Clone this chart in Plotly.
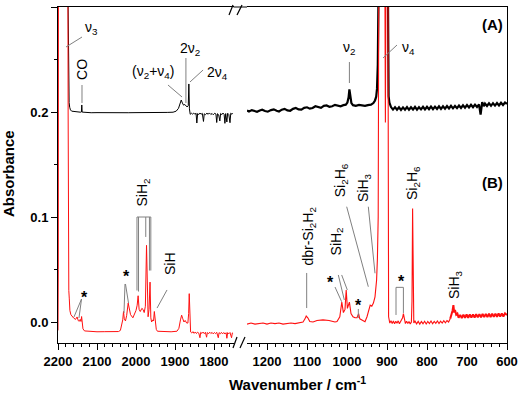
import plotly.graph_objects as go

# ---------------- data (wavenumber / cm-1, absorbance as plotted) ----------------
BLACK_L_WN = [2200, 2175, 2174, 2173.3, 2172.5, 2171.5, 2170, 2168, 2165, 2158, 2150, 2142, 2140, 2139, 2138,
              2130, 2115, 2100, 2080, 2060, 2040, 2020, 2000, 1980, 1960, 1940, 1920, 1905, 1897, 1891, 1887,
              1884, 1881, 1878, 1875, 1872, 1869, 1866, 1864.5, 1863, 1861, 1858, 1855, 1852, 1849, 1846, 1844,
              1842, 1839, 1836, 1833, 1830, 1827, 1825, 1822, 1818, 1815, 1812, 1808, 1805, 1802, 1798, 1795,
              1793, 1791, 1788, 1785, 1783, 1780, 1777, 1774, 1772, 1770, 1767, 1765, 1762, 1759, 1757, 1754, 1752]
BLACK_L_ABS = [0.40, 0.40, 0.30, 0.24, 0.218, 0.209, 0.2045, 0.2020, 0.2008, 0.2003, 0.2000, 0.1998, 0.2000, 0.2067, 0.1999,
               0.1996, 0.1993, 0.1994, 0.1992, 0.1993, 0.1991, 0.1993, 0.1994, 0.1993, 0.1995, 0.1994, 0.1996, 0.1998, 0.2008, 0.2035, 0.2075,
               0.2114, 0.2085, 0.2065, 0.2072, 0.2060, 0.2048, 0.2060, 0.2267, 0.2030, 0.1978, 0.1988, 0.1980, 0.1990, 0.1978, 0.1988, 0.1895,
               0.1985, 0.1976, 0.1990, 0.1979, 0.1987, 0.1910, 0.1983, 0.1975, 0.1989, 0.1978, 0.1991, 0.1976, 0.1986, 0.1974, 0.1988, 0.1980,
               0.1900, 0.1984, 0.1973, 0.1915, 0.1986, 0.1975, 0.1990, 0.1977, 0.1892, 0.1985, 0.1905, 0.1988, 0.1976, 0.1898, 0.1989, 0.1978, 0.1988]

BLACK_R_WN = [1250, 1245, 1238, 1232, 1225, 1218, 1212, 1205, 1198, 1190, 1183, 1176, 1170, 1163, 1156, 1149, 1142,
              1135, 1128, 1121, 1114, 1107, 1100, 1093, 1086, 1079, 1072, 1065, 1058, 1051, 1044, 1037, 1030, 1023,
              1016, 1009, 1003, 999, 996, 994, 992, 989, 985, 978, 970, 962, 955, 948, 940, 934, 930, 927, 925, 923,
              921, 919, 899, 898, 897, 896, 894, 891,
              890, 885, 880, 875, 870, 865, 860, 855, 850, 845, 840, 835, 830, 825, 820, 815, 810, 805, 800, 795,
              790, 785, 780, 775, 770, 765, 760, 755, 750, 745, 740, 735, 730, 725, 720, 715, 710, 705, 700, 695,
              690, 685, 680, 675, 670, 666, 662, 658, 655, 650, 645, 640, 635, 630, 625, 620, 615, 610, 605, 600]
BLACK_R_ABS = [0.2015, 0.2005, 0.2018, 0.2008, 0.2002, 0.2015, 0.2022, 0.2010, 0.2003, 0.2018, 0.2025, 0.2012, 0.2005, 0.2022, 0.2030, 0.2015, 0.2012,
               0.2030, 0.2038, 0.2025, 0.2022, 0.2040, 0.2045, 0.2032, 0.2038, 0.2055, 0.2048, 0.2040, 0.2058, 0.2062, 0.2050, 0.2055, 0.2068, 0.2060,
               0.2055, 0.2065, 0.2070, 0.2090, 0.2140, 0.2216, 0.2140, 0.2085, 0.2065, 0.2058, 0.2068, 0.2062, 0.2058, 0.2065, 0.2070, 0.2085, 0.2110, 0.2146, 0.2220, 0.2450,
               0.30, 0.40, 0.40, 0.25, 0.23, 0.215, 0.209, 0.2055,
               0.2047, 0.2023, 0.2046, 0.2021, 0.2045, 0.2020, 0.2044, 0.2022, 0.2047, 0.2021, 0.2045, 0.2023, 0.2048, 0.2022, 0.2046, 0.2025, 0.2050, 0.2024, 0.2049, 0.2026,
               0.2052, 0.2027, 0.2051, 0.2029, 0.2055, 0.2030, 0.2054, 0.2032, 0.2057, 0.2034, 0.2059, 0.2035, 0.2058, 0.2037, 0.2062, 0.2039, 0.2064, 0.2041, 0.2066, 0.2043,
               0.2068, 0.2045, 0.2070, 0.2047, 0.2072, 0.1975, 0.2095, 0.2055, 0.2080, 0.2057, 0.2082, 0.2059, 0.2084, 0.2061, 0.2086, 0.2063, 0.2088, 0.2066, 0.2090, 0.2078]

RED_L_WN = [2200, 2199.2, 2198.8, 2175, 2174, 2173.5, 2173, 2172.3, 2171, 2169.5, 2167, 2164, 2160, 2155, 2151, 2148,
            2145, 2143, 2141, 2139.5, 2138.5, 2136, 2132, 2120, 2100, 2080, 2060, 2045, 2040, 2037, 2034, 2032,
            2030, 2027, 2024, 2020, 2017, 2014, 2008, 2003, 2000, 1997, 1994.5, 1992, 1989, 1985, 1982, 1979,
            1976, 1973, 1971, 1969, 1966.5, 1964, 1962, 1960, 1957, 1955, 1953, 1951, 1948, 1945, 1930, 1910,
            1895, 1890, 1886, 1883, 1880, 1877, 1874, 1870, 1867, 1865, 1863.5, 1862, 1860,
            1857, 1854, 1851, 1848, 1845, 1842, 1839, 1836, 1834, 1831, 1828, 1825, 1822, 1819, 1817, 1814,
            1811, 1808, 1805, 1802, 1799, 1796, 1793, 1789, 1787, 1784, 1781, 1778, 1775, 1772, 1769, 1767,
            1765, 1762, 1759, 1755, 1753, 1751]
RED_L_ABS = [-0.008, 0.05, 0.40, 0.40, 0.20, 0.08, 0.035, 0.030, 0.022, 0.011, 0.007, 0.005, 0.0038, 0.0025, 0.0048, 0.0012,
             0.0008, 0.0025, 0.0005, 0.0052, -0.002, -0.0065, -0.0085, -0.0090, -0.0093, -0.0092, -0.0093, -0.0091, -0.008, -0.002, 0.002, 0.0100,
             0.003, 0.001, 0.006, 0.018, 0.012, 0.007, 0.004, 0.008, 0.011, 0.016, 0.025, 0.012, 0.010, 0.013, 0.012, 0.009,
             0.015, 0.073, 0.010, 0.005, 0.012, 0.038, 0.004, 0.0, 0.002, 0.001, 0.010, 0.002, -0.007, -0.0088, -0.0092, -0.0093,
             -0.0088, -0.006, 0.002, 0.0065, 0.003, 0.0, 0.0015, -0.001, -0.001, 0.008, 0.027, 0.001, -0.0095,
             -0.0105, -0.0092, -0.0108, -0.0095, -0.0110, -0.0097, -0.0106, -0.0150, -0.0098, -0.0109, -0.0096, -0.0111, -0.0098, -0.0145, -0.0100, -0.0112,
             -0.0097, -0.0110, -0.0099, -0.0113, -0.0100, -0.0111, -0.0098, -0.0150, -0.0101, -0.0112, -0.0099, -0.0113, -0.0100, -0.0114, -0.0102, -0.0155,
             -0.0101, -0.0112, -0.0100, -0.0150, -0.0104, -0.0110]

RED_R_WN = [1250, 1240, 1230, 1220, 1210, 1200, 1190, 1180, 1170, 1160, 1150, 1140, 1130, 1120, 1110, 1105, 1102,
            1098, 1093, 1085, 1075, 1060, 1045, 1030, 1025, 1018, 1013, 1009, 1005, 1002, 999, 994, 990, 985,
            980, 975, 971, 968, 960, 955, 950, 946, 942, 938, 934, 930, 926, 924, 922, 920, 906, 904, 902, 898,
            897, 896, 893, 890, 887, 884, 881, 878, 875, 872, 869, 866, 863, 861, 859, 857, 854, 851, 848, 845,
            842, 839, 837.5, 836, 834.5, 833, 830, 826, 822, 818, 814, 810, 806, 802, 798, 794, 790, 786, 782,
            778, 774, 770, 766, 762, 758, 754, 750, 746, 742, 739, 736, 734, 732, 730, 727, 724, 721, 717, 713,
            709, 705, 701, 697, 693, 689, 685, 681, 677, 673, 669, 665, 661, 657, 653, 649, 645, 641, 637, 633,
            629, 625, 621, 617, 613, 609, 605, 600]
RED_R_ABS = [-0.002, -0.001, -0.002, -0.0015, -0.001, -0.002, -0.001, -0.0015, -0.001, -0.002, -0.0012, -0.001, -0.0015, -0.001, 0.0, 0.003, 0.0057,
             0.004, 0.0005, 0.0, 0.0015, 0.002, 0.0015, 0.0, 0.0005, 0.005, 0.019, 0.009, 0.012, 0.0305, 0.013, 0.019, 0.008, 0.005,
             0.004, 0.004, 0.008, 0.003, 0.001, 0.0003, 0.005, 0.012, 0.016, 0.015, 0.018, 0.024, 0.040, 0.060, 0.10, 0.40, 0.40, 0.19, 0.40, 0.40,
             0.05, 0.005, -0.001, 0.0012, -0.0015, 0.001, -0.0018, 0.0008, -0.0012, 0.0011, -0.0016, 0.0005, 0.002, 0.004, 0.008, 0.002, -0.0015, 0.0008, -0.0015, 0.0005,
             -0.0018, 0.0, 0.02, 0.108, 0.02, -0.001, 0.0008, -0.0018, 0.0006, -0.002, 0.0004, -0.0016, 0.0007, -0.0019, 0.0005, -0.0014, 0.0009, -0.0017, 0.0006,
             -0.0013, 0.001, -0.0015, 0.0008, -0.001, 0.0012, -0.0008, 0.0014, 0.0, 0.003, 0.006, 0.011, 0.016, 0.009, 0.0115, 0.007, 0.008, 0.0040, 0.0068, 0.0038,
             0.0070, 0.0040, 0.0071, 0.0041, 0.0072, 0.0042, 0.0073, 0.0043, 0.0074, 0.0044, 0.0075, 0.0045, 0.0076, 0.0046, 0.0077, 0.0047, 0.0078, 0.0048, 0.0079, 0.0049,
             0.0080, 0.0050, 0.0081, 0.0051, 0.0082, 0.0052, 0.0083, 0.0066]

Y_TICKS = [0.0, 0.1, 0.2, 0.3]
NOISY_RED_TAIL_FROM = 742  # wavenumber below which the red trace forms a dense noisy band

# ---------------- figure ----------------
W, H = 520, 393
ML, MR, MT, MB = 58, 13, 7, 50
PW, PH = W - ML - MR, H - MT - MB
FONT = "Liberation Sans, Arial, sans-serif"
RED = "#ff1010"


def px(x):
    return (x - ML) / PW


def py(y):
    return (H - MB - y) / PH


k = next(i for i, w in enumerate(RED_R_WN) if w <= NOISY_RED_TAIL_FROM)

fig = go.Figure()
fig.add_trace(go.Scatter(x=BLACK_L_WN, y=BLACK_L_ABS, mode="lines", line=dict(color="black", width=1),
                         xaxis="x", yaxis="y", showlegend=False, hoverinfo="skip"))
fig.add_trace(go.Scatter(x=BLACK_R_WN, y=BLACK_R_ABS, mode="lines", line=dict(color="black", width=2.2),
                         xaxis="x2", yaxis="y2", showlegend=False, hoverinfo="skip"))
fig.add_trace(go.Scatter(x=RED_L_WN, y=RED_L_ABS, mode="lines", line=dict(color=RED, width=1),
                         xaxis="x", yaxis="y", showlegend=False, hoverinfo="skip"))
fig.add_trace(go.Scatter(x=RED_R_WN[:k + 1], y=RED_R_ABS[:k + 1], mode="lines", line=dict(color=RED, width=1.1),
                         xaxis="x2", yaxis="y2", showlegend=False, hoverinfo="skip"))
fig.add_trace(go.Scatter(x=RED_R_WN[k:], y=RED_R_ABS[k:], mode="lines", line=dict(color=RED, width=2),
                         xaxis="x2", yaxis="y2", showlegend=False, hoverinfo="skip"))

tickfont = dict(family=FONT, size=13, color="black", weight="bold")
minor_x = dict(dtick=20, tick0=0, ticks="outside", ticklen=3, tickcolor="black", tickwidth=1, showgrid=False)
common_x = dict(showline=True, linecolor="black", linewidth=1, mirror=True, ticks="outside", ticklen=6,
                tickwidth=1, tickcolor="black", showgrid=False, zeroline=False, dtick=100, tick0=0,
                tickfont=tickfont, minor=minor_x, automargin=False)

fig.update_layout(
    width=W, height=H, margin=dict(l=ML, r=MR, t=MT, b=MB, autoexpand=False),
    paper_bgcolor="white", plot_bgcolor="white",
    xaxis=dict(domain=[0, px(233.5)], range=[2200, 1750], anchor="y", **common_x),
    xaxis2=dict(domain=[px(247), 1], range=[1250, 600], anchor="y2", **common_x),
    yaxis=dict(domain=[0, 1], range=[-0.02, 0.3], anchor="x", showline=True, linecolor="black", linewidth=1,
               ticks="outside", ticklen=6, tickwidth=1, tickcolor="black", tickvals=Y_TICKS,
               ticktext=[f"{v:.1f}" for v in Y_TICKS], tickfont=tickfont, showgrid=False, zeroline=False,
               automargin=False,
               minor=dict(dtick=0.05, tick0=0, ticks="outside", ticklen=3, tickcolor="black", showgrid=False)),
    yaxis2=dict(domain=[0, 1], range=[-0.02, 0.3], anchor="x2", side="right", showline=True, automargin=False,
                linecolor="black", linewidth=1, showticklabels=False, ticks="", showgrid=False, zeroline=False),
)

GRAY = "#808080"
shapes = []


def seg(xr, yr, x0, y0, x1, y1, color=GRAY, width=1):
    shapes.append(dict(type="line", xref=xr, yref=yr, x0=x0, y0=y0, x1=x1, y1=y1,
                       line=dict(color=color, width=width)))


# left panel leaders
seg("x", "y", 2138.5, 0.2714, 2179.5, 0.2619)
seg("x", "y", 2138.5, 0.2257, 2138.5, 0.2086)
seg("x", "y", 1918, 0.2257, 1882, 0.2143)
seg("x", "y", 1872, 0.2514, 1872, 0.2086)
seg("x", "y", 1828, 0.240, 1861.5, 0.2286)
seg("x", "y", 2139.7, 0.0219, 2159, 0.0048)
seg("x", "y", 2139.7, 0.0219, 2146.2, 0.0038)
seg("x", "y", 2028.2, 0.0362, 2030.8, 0.0086)
seg("x", "y", 2027.0, 0.0362, 2019.2, 0.0181)
seg("x", "y", 1997.5, 0.100, 1962, 0.100)
seg("x", "y", 1997.5, 0.100, 1997.5, 0.030)
seg("x", "y", 1993.5, 0.100, 1993.5, 0.029)
seg("x", "y", 1975, 0.100, 1975, 0.081)
seg("x", "y", 1965.5, 0.100, 1965.5, 0.049)
seg("x", "y", 1962, 0.100, 1962, 0.049)
seg("x", "y", 1920.5, 0.0305, 1946, 0.0133)
# right panel leaders
seg("x2", "y2", 994, 0.2476, 994, 0.2276)
seg("x2", "y2", 875, 0.2638, 910, 0.2514)
seg("x2", "y2", 1100.8, 0.0467, 1100.8, 0.0133)
seg("x2", "y2", 1021.7, 0.0448, 1006.7, 0.021)
seg("x2", "y2", 1013.3, 0.0448, 999.2, 0.0305)
seg("x2", "y2", 1030, 0.0333, 1013.3, 0.0193)
seg("x2", "y2", 971.7, 0.0124, 971.7, 0.0038)
seg("x2", "y2", 1000.8, 0.1098, 946.7, 0.0336)
seg("x2", "y2", 946.7, 0.1098, 930, 0.0464)
seg("x2", "y2", 877.5, 0.033, 859, 0.033)
seg("x2", "y2", 877.5, 0.033, 877.5, 0.0067)
seg("x2", "y2", 859, 0.033, 859, 0.0086)
# axis break marks
seg("paper", "paper", px(233.5), 1, px(247), 1, color="black")
seg("paper", "paper", px(229), py(15), px(233), py(5), color="black", width=1.2)
seg("paper", "paper", px(237), py(15), px(242), py(5), color="black", width=1.2)
seg("paper", "paper", px(233), py(348), px(237), py(337), color="black", width=1.2)
seg("paper", "paper", px(240), py(348), px(245), py(337), color="black", width=1.2)
fig.update_layout(shapes=shapes)

ann = []
AF = dict(family=FONT, size=14, color="black")


def label(xr, yr, x, y, text, angle=0, size=14, bold=False):
    f = dict(AF, size=size)
    if bold:
        f["weight"] = "bold"
    ann.append(dict(xref=xr, yref=yr, x=x, y=y, text=text, showarrow=False, textangle=angle,
                    xanchor="center", yanchor="middle", font=f))


label("x", "y", 2114, 0.280, "ν<sub>3</sub>")
label("x", "y", 2138.5, 0.241, "CO", angle=-90)
label("x", "y", 1956.4, 0.238, "(ν<sub>2</sub>+ν<sub>4</sub>)")
label("x", "y", 1861.5, 0.260, "2ν<sub>2</sub>")
label("x", "y", 1790, 0.237, "2ν<sub>4</sub>")
label("x", "y", 2132.6, 0.0238, "*", size=16, bold=True)
label("x", "y", 2025.6, 0.0438, "*", size=16, bold=True)
label("x", "y", 1980.8, 0.1238, "SiH<sub>2</sub>", angle=-90)
label("x", "y", 1912.8, 0.0552, "SiH", angle=-90)

label("x2", "y2", 995, 0.2605, "ν<sub>2</sub>")
label("x2", "y2", 846, 0.2605, "ν<sub>4</sub>")
label("x2", "y2", 1095, 0.0814, "dbr-Si<sub>2</sub>H<sub>2</sub>", angle=-90)
label("x2", "y2", 1025, 0.0767, "SiH<sub>2</sub>", angle=-90)
label("x2", "y2", 1040.8, 0.038, "*", size=16, bold=True)
label("x2", "y2", 971.7, 0.0157, "*", size=16, bold=True)
label("x2", "y2", 1015, 0.135, "Si<sub>2</sub>H<sub>6</sub>", angle=-90)
label("x2", "y2", 957.5, 0.1276, "SiH<sub>3</sub>", angle=-90)
label("x2", "y2", 835, 0.1324, "Si<sub>2</sub>H<sub>6</sub>", angle=-90)
label("x2", "y2", 865, 0.039, "*", size=16, bold=True)
label("x2", "y2", 730, 0.0352, "SiH<sub>3</sub>", angle=-90)

label("paper", "paper", px(492.5), py(24), "(A)", size=15, bold=True)
label("paper", "paper", px(492.5), py(182.5), "(B)", size=15, bold=True)
label("paper", "paper", px(8.5), py(173.5), "Absorbance", angle=-90, size=15, bold=True)
label("paper", "paper", px(297.5), py(383), "Wavenumber / cm<sup>-1</sup>", size=15, bold=True)
fig.update_layout(annotations=ann)

fig.write_html("out.html", config={"displayModeBar": False},
               post_script="document.body.style.margin='0px';")
